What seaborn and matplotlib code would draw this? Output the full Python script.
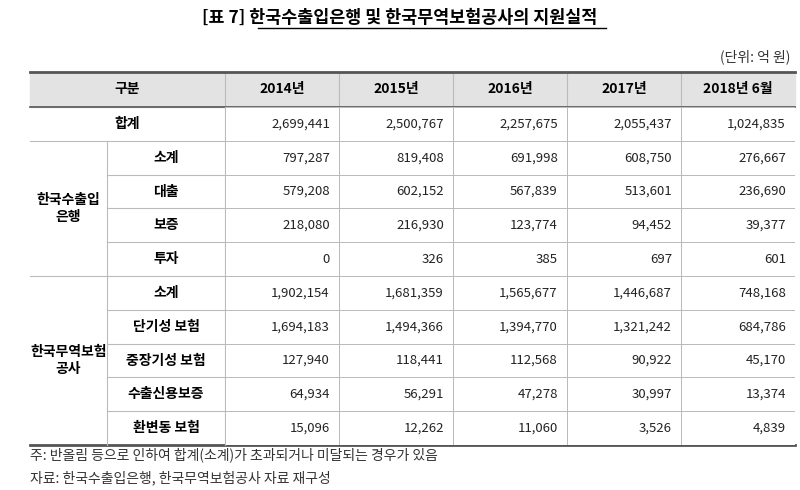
import numpy as np
import pandas as pd
import matplotlib.pyplot as plt
import seaborn as sns

plt.rcParams["font.family"] = ["Noto Sans CJK KR", "Noto Sans CJK JP",
                               "Noto Sans CJK SC", "DejaVu Sans"]

years = ["2014년", "2015년", "2016년", "2017년", "2018년 6월"]
row_labels = ["합계", "소계", "대출", "보증", "투자",
              "소계", "단기성 보험", "중장기성 보험", "수출신용보증", "환변동 보험"]
group_labels = ["한국수출입\n은행", "한국무역보험\n공사"]
values = [
    [2699441, 2500767, 2257675, 2055437, 1024835],
    [797287, 819408, 691998, 608750, 276667],
    [579208, 602152, 567839, 513601, 236690],
    [218080, 216930, 123774, 94452, 39377],
    [0, 326, 385, 697, 601],
    [1902154, 1681359, 1565677, 1446687, 748168],
    [1694183, 1494366, 1394770, 1321242, 684786],
    [127940, 118441, 112568, 90922, 45170],
    [64934, 56291, 47278, 30997, 13374],
    [15096, 12262, 11060, 3526, 4839],
]

df = pd.DataFrame(values, index=row_labels, columns=years)
labels = df.apply(lambda c: c.map(lambda v: f"{v:,}"))

fig = plt.figure(figsize=(8, 4.9), dpi=100)
base = fig.add_axes([0, 0, 1, 1])
base.set_xlim(0, 800)
base.set_ylim(490, 0)
base.axis("off")

# table geometry in pixels
top, head_bot, body_bot = 72, 107, 445
x_left, x_grp, x_lab, x_right = 30, 107, 225, 795
row_h = (body_bot - head_bot) / len(row_labels)
line_c = "#bbbbbb"

# numeric body as a heatmap
hm = fig.add_axes([x_lab / 800, (490 - body_bot) / 490,
                   (x_right - x_lab) / 800, (body_bot - head_bot) / 490])
sns.heatmap(np.zeros(df.shape), ax=hm, cmap=["white"], cbar=False,
            annot=labels.values, fmt="", linewidths=0.5, linecolor=line_c,
            annot_kws={"fontsize": 9.5, "color": "#222222"})
hm.set_xticks([]); hm.set_yticks([])
for t in hm.texts:
    x, y = t.get_position()
    t.set_position((x + 0.42, y))
    t.set_ha("right")

base.text(400, 18, "[표 7] 한국수출입은행 및 한국무역보험공사의 지원실적",
          ha="center", va="center", fontsize=12.5, fontweight="bold")
base.plot([258, 606], [28, 28], color="black", lw=1)
base.text(790, 57, "(단위: 억 원)", ha="right", va="center", fontsize=10, color="#333333")

# header
base.add_patch(plt.Rectangle((x_left, top), x_right - x_left, head_bot - top,
                             color="#e3e3e3", zorder=0))
base.text((x_left + x_lab) / 2, (top + head_bot) / 2, "구분", ha="center",
          va="center", fontsize=10, fontweight="bold")
col_w = (x_right - x_lab) / len(years)
for i, yr in enumerate(years):
    base.text(x_lab + col_w * (i + 0.5), (top + head_bot) / 2, yr, ha="center",
              va="center", fontsize=10, fontweight="bold")
    base.plot([x_lab + col_w * i] * 2, [top, head_bot], color=line_c, lw=0.8)
base.plot([x_left, x_right], [top, top], color="#555555", lw=2)
base.plot([x_left, x_right], [head_bot, head_bot], color="#555555", lw=1.2)
base.plot([x_left, x_right], [body_bot, body_bot], color="#555555", lw=2)

# row labels
for i, lab in enumerate(row_labels):
    yc = head_bot + row_h * (i + 0.5)
    xc = (x_left + x_lab) / 2 if i == 0 else (x_grp + x_lab) / 2
    base.text(xc, yc, lab, ha="center", va="center", fontsize=10, fontweight="bold")
    y1 = head_bot + row_h * (i + 1)
    if i < len(row_labels) - 1:
        xs = x_left if i in (0, 4) else x_grp
        base.plot([xs, x_lab], [y1, y1], color=line_c, lw=0.8)
base.plot([x_grp, x_grp], [head_bot + row_h, body_bot], color=line_c, lw=0.8)
base.plot([x_lab, x_lab], [head_bot, body_bot], color=line_c, lw=0.8)
for g, (a, b) in zip(group_labels, [(1, 5), (5, 10)]):
    base.text((x_left + x_grp) / 2, head_bot + row_h * (a + b) / 2, g,
              ha="center", va="center", fontsize=10, fontweight="bold", linespacing=1.3)

base.text(30, 455, "주: 반올림 등으로 인하여 합계(소계)가 초과되거나 미달되는 경우가 있음",
          va="center", fontsize=10, color="#333333")
base.text(30, 478, "자료: 한국수출입은행, 한국무역보험공사 자료 재구성",
          va="center", fontsize=10, color="#333333")

fig.savefig("out.png", dpi=100)
